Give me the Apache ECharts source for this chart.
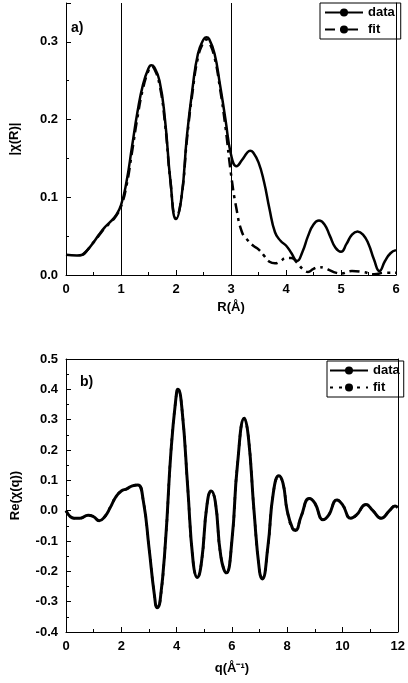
<!DOCTYPE html><html><head><meta charset="utf-8"><script src="https://cdn.jsdelivr.net/npm/echarts@6/dist/echarts.min.js"></script>
<style>body{margin:0;background:#fff}#c{width:408px;height:683px}</style></head><body><div id="c"></div><script>
const rData=[[0,0.026],[0.2,0.025],[0.3,0.026],[0.4,0.033],[0.5,0.042],[0.6,0.052],[0.7,0.061],[0.8,0.068],[0.9,0.076],[1.0,0.09],[1.1,0.12],[1.2,0.165],[1.3,0.21],[1.4,0.245],[1.5,0.266],[1.55,0.27],[1.6,0.268],[1.7,0.25],[1.8,0.2],[1.9,0.12],[2.0,0.072],[2.1,0.1],[2.2,0.18],[2.3,0.24],[2.4,0.285],[2.5,0.303],[2.55,0.306],[2.6,0.304],[2.7,0.285],[2.8,0.245],[2.9,0.2],[3.0,0.155],[3.1,0.14],[3.2,0.148],[3.3,0.158],[3.35,0.16],[3.4,0.158],[3.5,0.145],[3.6,0.12],[3.7,0.085],[3.8,0.055],[3.9,0.044],[4.0,0.038],[4.1,0.028],[4.2,0.018],[4.3,0.03],[4.4,0.05],[4.5,0.065],[4.6,0.07],[4.7,0.065],[4.8,0.05],[4.9,0.035],[5.0,0.03],[5.1,0.04],[5.2,0.052],[5.3,0.056],[5.4,0.052],[5.5,0.04],[5.6,0.02],[5.7,0.005],[5.8,0.018],[5.9,0.028],[6.0,0.032]];
const rFit=[[0.3,0.026],[0.4,0.033],[0.5,0.042],[0.6,0.051],[0.7,0.06],[0.8,0.067],[0.9,0.075],[1.0,0.088],[1.1,0.115],[1.2,0.158],[1.3,0.203],[1.4,0.24],[1.5,0.263],[1.55,0.268],[1.6,0.266],[1.7,0.245],[1.8,0.195],[1.9,0.12],[2.0,0.073],[2.1,0.1],[2.2,0.175],[2.3,0.235],[2.4,0.28],[2.5,0.3],[2.55,0.303],[2.6,0.3],[2.7,0.28],[2.8,0.24],[2.9,0.19],[3.0,0.13],[3.1,0.085],[3.2,0.055],[3.3,0.045],[3.4,0.038],[3.5,0.033],[3.6,0.025],[3.7,0.017],[3.8,0.015],[3.9,0.018],[4.0,0.022],[4.1,0.022],[4.2,0.016],[4.3,0.008],[4.4,0.004],[4.5,0.008],[4.6,0.01],[4.7,0.009],[4.8,0.006],[4.9,0.003],[5.0,0.002],[5.2,0.005],[5.4,0.004],[5.6,0.001],[5.8,0.003],[6.0,0.003]];
const qData=[[0,0],[0.3,-0.025],[0.5,-0.025],[0.8,-0.015],[1.0,-0.02],[1.2,-0.033],[1.4,-0.02],[1.6,0.01],[1.8,0.045],[2.0,0.065],[2.2,0.072],[2.4,0.082],[2.6,0.085],[2.8,0.03],[3.0,-0.12],[3.2,-0.28],[3.3,-0.32],[3.4,-0.3],[3.6,-0.1],[3.8,0.2],[4.0,0.39],[4.05,0.4],[4.2,0.33],[4.4,0.08],[4.6,-0.17],[4.75,-0.22],[4.9,-0.17],[5.1,0.02],[5.25,0.065],[5.4,0.03],[5.6,-0.15],[5.8,-0.205],[6.0,-0.1],[6.2,0.15],[6.45,0.305],[6.6,0.24],[6.8,0.0],[7.0,-0.2],[7.1,-0.225],[7.3,-0.12],[7.5,0.06],[7.7,0.115],[7.85,0.09],[8.0,0.0],[8.2,-0.06],[8.3,-0.065],[8.5,-0.02],[8.8,0.04],[9.0,0.025],[9.3,-0.03],[9.5,-0.015],[9.8,0.035],[10.0,0.02],[10.3,-0.025],[10.5,-0.015],[10.85,0.02],[11.1,0],[11.4,-0.025],[11.7,0],[11.9,0.015],[12,0.01]];
const qFit=[[0,0],[0.3,-0.025],[0.5,-0.025],[0.8,-0.015],[1.0,-0.02],[1.2,-0.033],[1.4,-0.02],[1.6,0.012],[1.8,0.045],[2.0,0.065],[2.2,0.072],[2.4,0.082],[2.6,0.085],[2.8,0.03],[3.0,-0.12],[3.2,-0.28],[3.3,-0.318],[3.4,-0.3],[3.6,-0.1],[3.8,0.2],[4.0,0.39],[4.05,0.398],[4.2,0.33],[4.4,0.08],[4.6,-0.17],[4.75,-0.218],[4.9,-0.17],[5.1,0.02],[5.25,0.063],[5.4,0.03],[5.6,-0.15],[5.8,-0.203],[6.0,-0.1],[6.2,0.15],[6.45,0.303],[6.6,0.24],[6.8,0.0],[7.0,-0.2],[7.1,-0.223],[7.3,-0.12],[7.5,0.06],[7.7,0.113],[7.85,0.09],[8.0,0.0],[8.2,-0.06],[8.3,-0.063],[8.5,-0.02],[8.8,0.04],[9.0,0.025],[9.3,-0.03],[9.5,-0.015],[9.8,0.035],[10.0,0.02],[10.3,-0.025],[10.5,-0.015],[10.85,0.02],[11.1,0],[11.4,-0.025],[11.7,0],[11.9,0.015],[12,0.01]];
const F='"Liberation Sans", Arial, sans-serif';
const lab={color:'#000',fontFamily:F,fontWeight:'bold',fontSize:13};
const ax=(o)=>Object.assign({axisLine:{show:true,onZero:false,lineStyle:{color:'#000',width:1}},axisTick:{inside:true,length:5,lineStyle:{color:'#000'}},minorTick:{show:true,splitNumber:2,length:3,lineStyle:{color:'#000'}},splitLine:{show:false},axisLabel:lab},o);
const hid={show:true,axisLabel:{show:false},axisTick:{show:false},minorTick:{show:false},splitLine:{show:false},axisLine:{show:true,onZero:false,lineStyle:{color:'#000'}}};
const chart=echarts.init(document.getElementById('c'));
chart.setOption({
animation:false,
grid:[{left:61,top:3,right:12,height:272},{left:66,top:359,right:7,height:273}],
xAxis:[
 ax({type:'value',gridIndex:0,min:0,max:6,interval:1,name:'R(Å)',nameLocation:'middle',nameGap:26,nameTextStyle:lab}),
 ax({type:'value',gridIndex:1,min:0,max:12,interval:2,name:'q(Å⁻¹)',nameLocation:'middle',nameGap:30,nameTextStyle:lab}),
 Object.assign({type:'value',gridIndex:1,position:'top',min:0,max:12},hid)
],
yAxis:[
 ax({type:'value',gridIndex:0,min:0,max:0.35,interval:0.1,axisLabel:Object.assign({},lab,{formatter:v=>v>0.33?'':v.toFixed(1)}),name:'|χ(R)|',nameLocation:'middle',nameGap:45,nameTextStyle:lab}),
 ax({type:'value',gridIndex:1,min:-0.4,max:0.5,interval:0.1,axisLabel:Object.assign({},lab,{formatter:v=>v.toFixed(1)}),name:'Re(χ(q))',nameLocation:'middle',nameGap:44,nameTextStyle:lab}),
 Object.assign({type:'value',gridIndex:0,position:'right',min:0,max:0.35},hid),
 Object.assign({type:'value',gridIndex:1,position:'right',min:-0.4,max:0.5},hid)
],
legend:[
 {id:'la',data:['data','fit'],orient:'vertical',left:320,top:3,itemWidth:38,itemHeight:10,itemGap:4,padding:[3,6,3,4],borderColor:'#000',borderWidth:1,textStyle:lab},
 {id:'lb',data:['data b','fit b'],orient:'vertical',left:327,top:361,itemWidth:38,itemHeight:10,itemGap:4,padding:[3,4,3,2],borderColor:'#000',borderWidth:1,textStyle:lab,formatter:n=>n.replace(' b','')}
],
series:[
 {name:'data',type:'line',xAxisIndex:0,yAxisIndex:0,data:rData,smooth:true,showSymbol:false,symbol:'none',lineStyle:{color:'#000',width:2.5},itemStyle:{color:'#000'},
  markLine:{silent:true,symbol:'none',label:{show:false},lineStyle:{color:'#000',width:1,type:'solid'},data:[{xAxis:1},{xAxis:3}]}},
 {name:'fit',type:'line',xAxisIndex:0,yAxisIndex:0,data:rFit,smooth:true,showSymbol:false,symbol:'none',lineStyle:{color:'#000',width:2.5,type:[10,5,3,5]},itemStyle:{color:'#000'}},
 {name:'data b',type:'line',xAxisIndex:1,yAxisIndex:1,data:qData,smooth:true,showSymbol:false,symbol:'none',lineStyle:{color:'#000',width:3},itemStyle:{color:'#000'}},
 {name:'fit b',type:'line',xAxisIndex:1,yAxisIndex:1,data:qFit,smooth:true,showSymbol:false,symbol:'none',lineStyle:{color:'#000',width:2.5,type:[3,6]},itemStyle:{color:'#000'}}
],
graphic:[
 {type:'text',left:71,top:21,style:{text:'a)',font:'bold 14px '+F,fill:'#000'}},
 {type:'text',left:80,top:375,style:{text:'b)',font:'bold 14px '+F,fill:'#000'}}
]
});
</script></body></html>
